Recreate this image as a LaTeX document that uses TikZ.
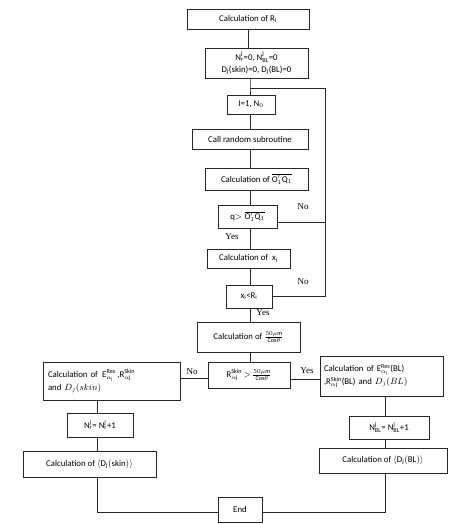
\documentclass[tikz,border=0pt]{standalone}
\usepackage{amsmath, amssymb}
\usepackage{fontspec}
\setmainfont{Carlito}
\newfontfamily\yesnofont{Liberation Serif}
\usepackage{tikz}
\usetikzlibrary{positioning}

\begin{document}
\begin{tikzpicture}[x=1pt, y=-1pt,
    box/.style={draw=black!85, line width=0.7pt, inner sep=2pt, align=center,
                font=\fontsize{8.8}{13}\selectfont},
    flowline/.style={draw=black!85, line width=0.7pt},
    answer/.style={font=\yesnofont\fontsize{9}{10}\selectfont, inner sep=1pt}]
    \useasboundingbox (0,0) rectangle (474,524);

    \node[box, minimum width=122pt, minimum height=20pt] (calcR) at (248,19)
        {Calculation of R\textsubscript{i}};
    \node[box, minimum width=103pt, minimum height=30pt, font=\fontsize{8.8}{12}\selectfont] (init) at (256.5,63)
        {N$_{\mathrm{r}}^{\mathrm{j}}$=0, N$_{\mathrm{BL}}^{\mathrm{j}}$=0\\
         D$_{\mathrm{j}}$(skin)=0, D$_{\mathrm{j}}$(BL)=0};
    \node[box, minimum width=48pt, minimum height=19pt] (loopI) at (251,104.5)
        {I=1, N$_0$};
    \node[box, minimum width=116pt, minimum height=20pt] (random) at (250,139)
        {Call random subroutine};
    \node[box, minimum width=103pt, minimum height=22pt] (calcOQ) at (256.5,179)
        {Calculation of $\overline{\mathrm{O}'_1\mathrm{Q}_1}$};
    \node[box, minimum width=59pt, minimum height=23pt] (testq) at (247.5,216.5)
        {q$>\overline{\mathrm{O}'_1\mathrm{Q}_1}$};
    \node[box, minimum width=83pt, minimum height=19pt] (calcx) at (248.5,258.5)
        {Calculation of \ x\textsubscript{i}};
    \node[box, minimum width=46pt, minimum height=23pt] (testx) at (249,296.5)
        {x\textsubscript{i}<R\textsubscript{i}};
    \node[box, minimum width=103pt, minimum height=30pt] (calcratio) at (248.5,337)
        {Calculation of $\frac{50\mu\mathrm{m}}{\mathrm{Cos}\theta}$};
    \node[box, minimum width=82pt, minimum height=26pt] (cond) at (249,375)
        {R$^{\mathrm{Skin}}_{\alpha\mathrm{j}}$\,$>$\,$\frac{50\mu\mathrm{m}}{\mathrm{Cos}\theta}$};
    \node[box, minimum width=137pt, minimum height=38pt, text width=127pt, align=left] (skin) at (111.5,381)
        {Calculation of \,E$^{\mathrm{Res}}_{\alpha_{\mathrm{j}}}$\,,R$^{\mathrm{Skin}}_{\alpha\mathrm{j}}$\\
         and $D_j(skin)$};
    \node[box, minimum width=123pt, minimum height=40pt, text width=115pt, align=left] (blayer) at (381.5,376)
        {Calculation of E$^{\mathrm{Res}}_{\alpha_{\mathrm{j}}}$(BL)\\
         ,R$^{\mathrm{Skin}}_{\alpha\mathrm{j}}$(BL) and $D_j(BL)$};
    \node[box, minimum width=66pt, minimum height=24pt] (countr) at (100,425)
        {N$_{\mathrm{r}}^{\mathrm{j}}$= N$_{\mathrm{r}}^{\mathrm{j}}$+1};
    \node[box, minimum width=80pt, minimum height=23pt] (countbl) at (389,427.5)
        {N$_{\mathrm{BL}}^{\mathrm{j}}$= N$_{\mathrm{BL}}^{\mathrm{j}}$+1};
    \node[box, minimum width=133pt, minimum height=26pt] (meanskin) at (89.5,464)
        {Calculation of $\langle\mathrm{D_j(skin)}\rangle$};
    \node[box, minimum width=128pt, minimum height=25pt] (meanbl) at (383,460.5)
        {Calculation of $\langle\mathrm{D_j(BL)}\rangle$};
    \node[box, minimum width=44pt, minimum height=25pt] (finish) at (240,509.5)
        {End};

    \coordinate (joinI) at (250,88);
    \coordinate (loopR) at (325,88);
    \coordinate (leftx) at (97,0);
    \coordinate (rightx) at (385.5,0);
    \coordinate (bottomy) at (0,512);

    \draw[flowline] (calcR.south) -- (calcR.south |- init.north);
    \draw[flowline] (joinI |- init.south) -- (joinI) -- (joinI |- loopI.north);
    \draw[flowline] (loopI.south -| joinI) -- (joinI |- random.north);
    \draw[flowline] (random.south -| joinI) -- (joinI |- calcOQ.north);
    \draw[flowline] (calcOQ.south -| joinI) -- (joinI |- testq.north);
    \draw[flowline] (testq.south -| joinI) -- (joinI |- calcx.north);
    \draw[flowline] (calcx.south -| joinI) -- (joinI |- testx.north);
    \draw[flowline] (testx.south -| joinI) -- (joinI |- calcratio.north);
    \draw[flowline] (calcratio.south -| joinI) -- (joinI |- cond.north);
    \draw[flowline] (testx.east) -| (loopR) -- (joinI);
    \draw[flowline] ([yshift=-6pt]testq.east) -- ([yshift=-6pt]testq.east -| loopR);
    \draw[flowline] ([yshift=-3pt]cond.west) -- ([yshift=-3pt]cond.west -| skin.east);
    \draw[flowline] ([yshift=-4pt]cond.east) -- ([yshift=-4pt]cond.east -| blayer.west);
    \draw[flowline] (leftx |- skin.south) -- (leftx |- countr.north);
    \draw[flowline] (leftx |- countr.south) -- (leftx |- meanskin.north);
    \draw[flowline] (leftx |- meanskin.south) -- (leftx |- bottomy) -- (bottomy -| finish.west);
    \draw[flowline] (rightx |- blayer.south) -- (rightx |- countbl.north);
    \draw[flowline] (rightx |- countbl.south) -- (rightx |- meanbl.north);
    \draw[flowline] (rightx |- meanbl.south) -- (rightx |- bottomy) -- (bottomy -| finish.east);

    \node[answer] (noq) at (303,207) {No};
    \node[answer] (yesq) at (232,237) {Yes};
    \node[answer] (nox) at (303,282) {No};
    \node[answer] (yesx) at (263,313) {Yes};
    \node[answer] (noskin) at (192,372) {No};
    \node[answer] (yesbl) at (307,371) {Yes};
\end{tikzpicture}
\end{document}
